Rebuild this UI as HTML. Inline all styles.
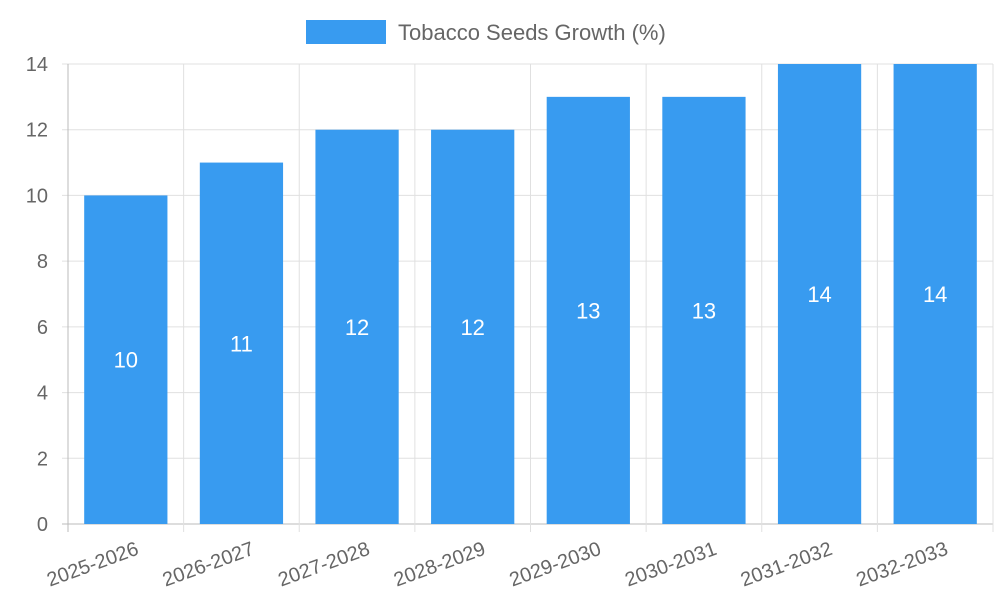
<!DOCTYPE html>
<html><head><meta charset="utf-8"><style>
body{margin:0;background:#fff;}
svg{display:block;font-family:"Liberation Sans",sans-serif;}
</style></head><body>
<svg id="chart" width="1000" height="600">
<g>
<rect x="306" y="20" width="80" height="24" fill="#389bf0"/>
<text x="398" y="40" font-size="22" fill="#666">Tobacco Seeds Growth (%)</text>
</g>
<g id="grid"></g>
<g id="bars"></g>
<g id="axes"></g>
</svg>
<script>
const categories=["2025-2026","2026-2027","2027-2028","2028-2029","2029-2030","2030-2031","2031-2032","2032-2033"];
const values=[10,11,12,12,13,13,14,14];
const yTicks=[0,2,4,6,8,10,12,14];
const L=68,R=993,T=64,B=524,yMax=14;
const ns="http://www.w3.org/2000/svg";
const step=(R-L)/categories.length;
const y=v=>B-(v/yMax)*(B-T);
const x=i=>L+i*step;
function mk(tag,attrs,parent,txt){const e=document.createElementNS(ns,tag);for(const k in attrs)e.setAttribute(k,attrs[k]);if(txt!==undefined)e.textContent=txt;document.getElementById(parent).appendChild(e);return e;}
yTicks.forEach(t=>{
 const g=mk('line',{x1:L-6,x2:R,y1:y(t),y2:y(t),stroke:t===0?'#bbb':'#e0e0e0','stroke-width':1},'grid');
 
 
 const l=mk('text',{x:L-20,y:y(t)+7,'text-anchor':'end','font-size':20,fill:'#666'},'axes',t);
 
 
});
for(let i=0;i<=categories.length;i++){
 const g=mk('line',{x1:x(i),x2:x(i),y1:T,y2:B+8,stroke:i===0?'#bbb':'#e0e0e0','stroke-width':1},'grid');
 
 
}
categories.forEach((c,i)=>{
 const bw=step*0.72,bx=x(i)+(step-bw)/2;
 const r=mk('rect',{x:bx,y:y(values[i]),width:bw,height:B-y(values[i]),fill:'#389bf0'},'bars');
 
 
 const vt=mk('text',{x:bx+bw/2,y:(y(values[i])+B)/2+8,'text-anchor':'middle','font-size':22,fill:'#fff'},'bars',values[i]);
 
 
 const cx=x(i)+step/2+14,cy=B+30;
 const lt=mk('text',{x:cx,y:cy,'text-anchor':'end','font-size':20,fill:'#666',transform:`rotate(-20 ${cx} ${cy})`},'axes',c);
 
 
});
</script>
</body></html>
